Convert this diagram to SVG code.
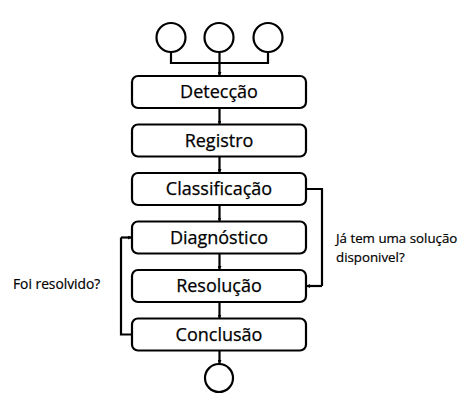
<svg xmlns="http://www.w3.org/2000/svg" width="474" height="400" viewBox="0 0 474 400">
<defs>
<marker id="ah" viewBox="0 0 8 8" refX="8" refY="4" markerWidth="4" markerHeight="4" orient="auto" markerUnits="userSpaceOnUse">
<path d="M0,0 L8,4 L0,8 z" fill="#000"/>
</marker>
<style>
.box{fill:#fff;stroke:#000;stroke-width:2.2}
.circ{fill:#fff;stroke:#000;stroke-width:2.2}
.lbl{font-family:"Open Sans","Noto Sans",sans-serif;font-size:18px;fill:#000;text-anchor:middle;stroke:#000;stroke-width:0.25}
.note{font-family:"Open Sans","Noto Sans",sans-serif;font-size:13.8px;fill:#000;stroke:#000;stroke-width:0.2}
.ln{fill:none;stroke:#000;stroke-width:2.2}
.ar{fill:none;stroke:#000;stroke-width:2.2;marker-end:url(#ah)}
</style>
</defs>
<rect width="474" height="400" fill="#fff"/>
<g id="connectors">
<path class="ln" d="M171,52 V63 H268 V52"/>
<path class="ln" d="M219.5,52 V63"/>
<path class="ar" d="M219.5,63 V76"/>
<path class="ar" d="M219.5,108 V124.5"/>
<path class="ar" d="M219.5,156.5 V173"/>
<path class="ar" d="M219.5,205 V221.5"/>
<path class="ar" d="M219.5,253.5 V270"/>
<path class="ar" d="M219.5,302 V318.5"/>
<path class="ar" d="M219.5,350.5 V364"/>
<path class="ln" d="M306,189 H322 V286"/>
<path class="ar" d="M322,286 H306"/>
<path class="ln" d="M132,334.5 H121 V237.5"/>
<path class="ar" d="M121,237.5 H132"/>
</g>
<g id="start1"><circle class="circ" cx="171" cy="37.5" r="14.5"/></g>
<g id="start2"><circle class="circ" cx="219" cy="37.5" r="14.5"/></g>
<g id="start3"><circle class="circ" cx="268" cy="37.5" r="14.5"/></g>
<g id="deteccao"><rect class="box" x="132" y="76" width="174" height="32" rx="6"/><text class="lbl" x="219" y="98">Detecção</text></g>
<g id="registro"><rect class="box" x="132" y="124.5" width="174" height="32" rx="6"/><text class="lbl" x="219" y="146.5">Registro</text></g>
<g id="classificacao"><rect class="box" x="132" y="173" width="174" height="32" rx="6"/><text class="lbl" x="219" y="195">Classificação</text></g>
<g id="diagnostico"><rect class="box" x="132" y="221.5" width="174" height="32" rx="6"/><text class="lbl" x="219" y="243.5">Diagnóstico</text></g>
<g id="resolucao"><rect class="box" x="132" y="270" width="174" height="32" rx="6"/><text class="lbl" x="219" y="292">Resolução</text></g>
<g id="conclusao"><rect class="box" x="132" y="318.5" width="174" height="32" rx="6"/><text class="lbl" x="219" y="340.5">Conclusão</text></g>
<g id="end"><circle class="circ" cx="219" cy="378" r="14"/></g>
<g id="labels">
<text class="note" x="336" y="243" style="font-size:13.3px">Já tem uma solução</text>
<text class="note" x="336" y="261.5" style="font-size:13.3px">disponivel?</text>
<text class="note" x="13" y="289">Foi resolvido?</text>
</g>
</svg>
